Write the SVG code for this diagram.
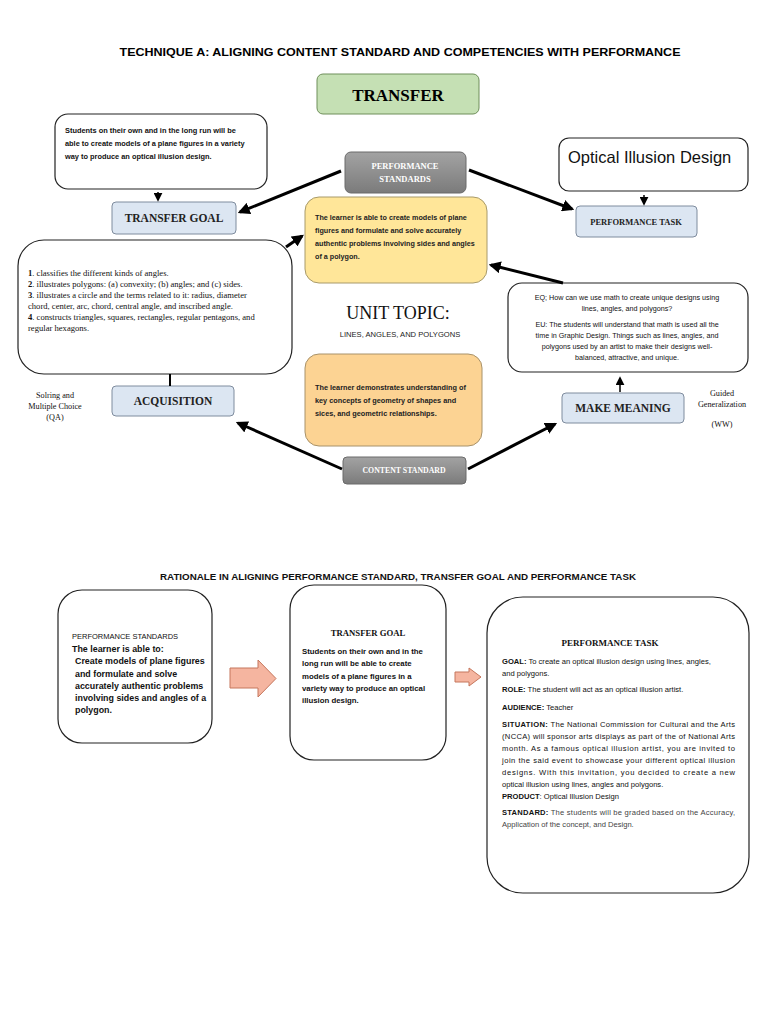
<svg xmlns="http://www.w3.org/2000/svg" width="768" height="1024" viewBox="0 0 768 1024">
<defs>
<marker id="ah" viewBox="0 0 10 10" refX="8" refY="5" markerWidth="4" markerHeight="4" orient="auto" markerUnits="strokeWidth"><path d="M0,0 L10,5 L0,10 z" fill="#000"/></marker>
<marker id="ahs" viewBox="0 0 10 10" refX="8" refY="5" markerWidth="6" markerHeight="6" orient="auto" markerUnits="strokeWidth"><path d="M0,0 L10,5 L0,10 z" fill="#000"/></marker>
<linearGradient id="gray" x1="0" y1="0" x2="0" y2="1"><stop offset="0" stop-color="#a3a3a3"/><stop offset="1" stop-color="#7b7b7b"/></linearGradient>
</defs>
<style>
.wbox{fill:#fff;stroke:#222;stroke-width:1.2}
.bbox{fill:#dce6f2;stroke:#7f8c9e;stroke-width:1}
.gbox{fill:url(#gray);stroke:#6a6a6a;stroke-width:1}
.sans{font-family:"Liberation Sans",Arial,sans-serif}
.serif{font-family:"Liberation Serif","Times New Roman",serif}
.b{font-weight:bold}
.conn{stroke:#000;stroke-width:3;fill:none;marker-end:url(#ah)}
.thin{stroke:#000;stroke-width:1.5;fill:none;marker-end:url(#ahs)}
.blk{fill:#f5b5a0;stroke:#c5765c;stroke-width:1}
</style>
<rect width="768" height="1024" fill="#fff"/>

<text x="400" y="56" text-anchor="middle" class="sans b" font-size="11" textLength="561" lengthAdjust="spacingAndGlyphs">TECHNIQUE A: ALIGNING CONTENT STANDARD AND COMPETENCIES WITH PERFORMANCE</text>

<g id="transfer">
<rect x="317" y="74" width="162" height="40" rx="6" fill="#c5e0b4" stroke="#6f8f5a" stroke-width="1"/>
<text x="398" y="101" text-anchor="middle" class="serif b" font-size="17">TRANSFER</text>
</g>

<g id="goal-text">
<rect x="55" y="114" width="212" height="75" rx="13" class="wbox"/>
<text class="sans b" font-size="7.4" fill="#111"><tspan x="65" y="133">Students on their own and in the long run will be</tspan><tspan x="65" y="146">able to create models of a plane figures in a variety</tspan><tspan x="65" y="159">way to produce an optical illusion design.</tspan></text>
</g>

<g id="transfer-goal">
<rect x="112" y="202" width="124" height="32" rx="4" class="bbox"/>
<text x="174" y="222" text-anchor="middle" class="serif b" font-size="11.5" fill="#222">TRANSFER GOAL</text>
</g>

<g id="perf-standards">
<rect x="345" y="152" width="121" height="41" rx="6" class="gbox"/>
<text text-anchor="middle" class="serif b" font-size="8.5" fill="#fff"><tspan x="405" y="169">PERFORMANCE</tspan><tspan x="405" y="182">STANDARDS</tspan></text>
</g>

<g id="ps-text">
<rect x="305" y="197" width="182" height="86" rx="14" fill="#ffe699" stroke="#a89a6a" stroke-width="1"/>
<text class="sans b" font-size="7.2" fill="#222"><tspan x="315" y="220">The learner is able to create models of plane</tspan><tspan x="315" y="233">figures and formulate and solve accurately</tspan><tspan x="315" y="246">authentic problems involving sides and angles</tspan><tspan x="315" y="259">of a polygon.</tspan></text>
</g>

<g id="optical">
<rect x="559" y="138" width="189" height="53" rx="10" class="wbox"/>
<text x="568" y="163" class="sans" font-size="16.5" fill="#111">Optical Illusion Design</text>
</g>

<g id="perf-task">
<rect x="576" y="206" width="121" height="31" rx="4" class="bbox"/>
<text x="636" y="225" text-anchor="middle" class="serif b" font-size="8.5" fill="#222">PERFORMANCE TASK</text>
</g>

<g id="competencies">
<rect x="18" y="240" width="274" height="134" rx="26" class="wbox"/>
<text class="serif" font-size="8.6" fill="#111"><tspan x="28" y="276"><tspan class="b">1</tspan>. classifies the different kinds of angles.</tspan><tspan x="28" y="287"><tspan class="b">2</tspan>. illustrates polygons: (a) convexity; (b) angles; and (c) sides.</tspan><tspan x="28" y="298"><tspan class="b">3</tspan>. illustrates a circle and the terms related to it: radius, diameter</tspan><tspan x="28" y="309">chord, center, arc, chord, central angle, and inscribed angle.</tspan><tspan x="28" y="320"><tspan class="b">4</tspan>. constructs triangles, squares, rectangles, regular pentagons, and</tspan><tspan x="28" y="331">regular hexagons.</tspan></text>
</g>

<g id="acquisition">
<rect x="112" y="386" width="122" height="30" rx="4" class="bbox"/>
<text x="173" y="405" text-anchor="middle" class="serif b" font-size="11.5" fill="#222">ACQUISITION</text>
</g>

<g id="qa-label">
<text text-anchor="middle" class="serif" font-size="8.2" fill="#111"><tspan x="55" y="398">Solring and</tspan><tspan x="55" y="409">Multiple Choice</tspan><tspan x="55" y="420">(QA)</tspan></text>
</g>

<g id="unit-topic">
<text x="398" y="319" text-anchor="middle" class="serif" font-size="18" fill="#111">UNIT TOPIC:</text>
<text x="400" y="337" text-anchor="middle" class="sans" font-size="7.6" fill="#222">LINES, ANGLES, AND POLYGONS</text>
</g>

<g id="cs-text">
<rect x="305" y="354" width="177" height="92" rx="14" fill="#fcd393" stroke="#a8926a" stroke-width="1"/>
<text class="sans b" font-size="7.3" fill="#222"><tspan x="315" y="390">The learner demonstrates understanding of</tspan><tspan x="315" y="403">key concepts of geometry of shapes and</tspan><tspan x="315" y="416">sices, and geometric relationships.</tspan></text>
</g>

<g id="content-standard">
<rect x="343" y="457" width="123" height="27" rx="4" class="gbox"/>
<text x="404" y="473" text-anchor="middle" class="serif b" font-size="7.8" fill="#fff">CONTENT STANDARD</text>
</g>

<g id="eq-eu">
<rect x="508" y="283" width="240" height="89" rx="14" class="wbox"/>
<text text-anchor="middle" class="sans" font-size="7.2" fill="#111"><tspan x="627" y="300">EQ; How can we use math to create unique designs using</tspan><tspan x="627" y="311">lines, angles, and polygons?</tspan><tspan x="627" y="327">EU: The students will understand that math is used all the</tspan><tspan x="627" y="338">time in Graphic Design. Things such as lines, angles, and</tspan><tspan x="627" y="349">polygons used by an artist to make their designs well-</tspan><tspan x="627" y="360">balanced, attractive, and unique.</tspan></text>
</g>

<g id="make-meaning">
<rect x="562" y="393" width="122" height="30" rx="4" class="bbox"/>
<text x="623" y="412" text-anchor="middle" class="serif b" font-size="11.5" fill="#222">MAKE MEANING</text>
</g>

<g id="ww-label">
<text text-anchor="middle" class="serif" font-size="8.2" fill="#111"><tspan x="722" y="396">Guided</tspan><tspan x="722" y="407">Generalization</tspan><tspan x="722" y="427">(WW)</tspan></text>
</g>

<g id="connectors">
<line x1="158" y1="192" x2="158" y2="200" class="thin"/>
<line x1="644" y1="195" x2="644" y2="204" class="thin"/>
<line x1="341" y1="171" x2="240" y2="212" class="conn"/>
<line x1="469" y1="170" x2="572" y2="209" class="conn"/>
<line x1="286" y1="247" x2="302" y2="236" class="conn"/>
<line x1="170" y1="374" x2="170" y2="386" stroke="#000" stroke-width="2"/>
<line x1="342" y1="469" x2="238" y2="423" class="conn"/>
<line x1="468" y1="469" x2="555" y2="424" class="conn"/>
<line x1="563" y1="283" x2="491" y2="265" class="conn"/>
<line x1="620" y1="392" x2="620" y2="378" class="thin"/>
</g>

<text x="398" y="580" text-anchor="middle" class="sans b" font-size="9.3" fill="#111" textLength="476" lengthAdjust="spacingAndGlyphs">RATIONALE IN ALIGNING PERFORMANCE STANDARD, TRANSFER GOAL AND PERFORMANCE TASK</text>

<g id="r-perf-standards">
<rect x="58" y="590" width="154" height="153" rx="24" class="wbox"/>
<text class="sans" font-size="7.5" fill="#111" x="72" y="639">PERFORMANCE STANDARDS</text>
<text class="sans b" font-size="8.9" fill="#111"><tspan x="72" y="652">The learner is able to:</tspan><tspan x="75" y="664">Create models of plane figures</tspan><tspan x="75" y="677">and formulate and solve</tspan><tspan x="75" y="689">accurately authentic problems</tspan><tspan x="75" y="701">involving sides and angles of a</tspan><tspan x="75" y="713">polygon.</tspan></text>
</g>

<g id="r-arrow1">
<path d="M230,668 H258 V660 L276,678.5 L258,697 V688 H230 Z" class="blk"/>
</g>

<g id="r-transfer-goal">
<rect x="290" y="585" width="156" height="175" rx="24" class="wbox"/>
<text x="368" y="636" text-anchor="middle" class="serif b" font-size="8.7" fill="#111">TRANSFER GOAL</text>
<text class="sans b" font-size="7.8" fill="#111"><tspan x="302" y="654">Students on their own and in the</tspan><tspan x="302" y="666">long run will be able to create</tspan><tspan x="302" y="679">models of a plane figures in a</tspan><tspan x="302" y="691">variety way to produce an optical</tspan><tspan x="302" y="703">illusion design.</tspan></text>
</g>

<g id="r-arrow2">
<path d="M455,672 H469 V668 L481,677 L469,686 V682 H455 Z" class="blk"/>
</g>

<g id="r-perf-task">
<rect x="487" y="597" width="262" height="296" rx="36" class="wbox"/>
<text x="610" y="646" text-anchor="middle" class="serif b" font-size="9" fill="#111">PERFORMANCE TASK</text>
<text class="sans" font-size="7.6" fill="#111">
<tspan x="502" y="664"><tspan class="b">GOAL:</tspan> To create an optical illusion design using lines, angles,</tspan>
<tspan x="502" y="676">and polygons.</tspan>
<tspan x="502" y="692"><tspan class="b">ROLE:</tspan> The student will act as an optical illusion artist.</tspan>
<tspan x="502" y="710"><tspan class="b">AUDIENCE:</tspan> Teacher</tspan>
</text>
<text class="sans" font-size="7.6" fill="#111" x="502" y="727" textLength="233" lengthAdjust="spacing"><tspan class="b">SITUATION:</tspan> The National Commission for Cultural and the Arts</text>
<text class="sans" font-size="7.6" fill="#111" x="502" y="739" textLength="233" lengthAdjust="spacing">(NCCA) will sponsor arts displays as part of the of National Arts</text>
<text class="sans" font-size="7.6" fill="#111" x="502" y="751" textLength="233" lengthAdjust="spacing">month. As a famous optical illusion artist, you are invited to</text>
<text class="sans" font-size="7.6" fill="#111" x="502" y="763" textLength="233" lengthAdjust="spacing">join the said event to showcase your different optical illusion</text>
<text class="sans" font-size="7.6" fill="#111" x="502" y="775" textLength="233" lengthAdjust="spacing">designs. With this invitation, you decided to create a new</text>
<text class="sans" font-size="7.6" fill="#111"><tspan x="502" y="787">optical illusion using lines, angles and polygons.</tspan><tspan x="502" y="799"><tspan class="b">PRODUCT</tspan>: Optical Illusion Design</tspan></text>
<text class="sans" font-size="7.6" fill="#444" x="502" y="815" textLength="233" lengthAdjust="spacing"><tspan class="b" fill="#111">STANDARD:</tspan> The students will be graded based on the Accuracy,</text>
<text class="sans" font-size="7.6" fill="#444" x="502" y="827">Application of the concept, and Design.</text>
</g>
</svg>
